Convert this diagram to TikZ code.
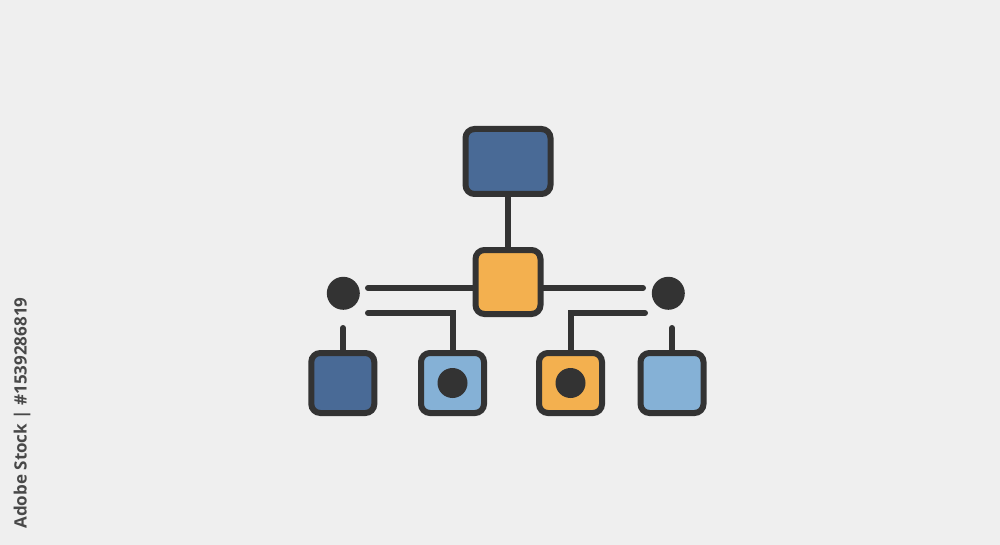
\documentclass[tikz,border=0pt]{standalone}
\usepackage{fontspec}
\setmainfont{Open Sans}
\begin{document}
\begin{tikzpicture}[x=1pt,y=-1pt,
  box/.style={draw=outl,line width=6pt,rounded corners=9pt,inner sep=0pt,minimum width=63pt,minimum height=60pt},
  dot/.style={circle,fill=outl,inner sep=0pt,minimum size=33pt},
  idot/.style={circle,fill=outl,inner sep=0pt,minimum size=30pt},
  conn/.style={draw=outl,line width=6pt,line cap=round}]
\definecolor{bgc}{HTML}{EFEFEF}
\definecolor{outl}{HTML}{333333}
\definecolor{dblue}{HTML}{496A96}
\definecolor{lblue}{HTML}{85B1D6}
\definecolor{orng}{HTML}{F3B04F}
\definecolor{idtext}{HTML}{484848}
\fill[bgc] (0,0) rectangle (1000,545);
\useasboundingbox (0,0) rectangle (1000,545);
\coordinate (l1) at (368,288);
\coordinate (r1) at (643,288);
\coordinate (l2) at (368,313);
\coordinate (r2) at (645,313);
\coordinate (l3) at (343,328);
\coordinate (r3) at (672,328);
\node[box,fill=dblue,minimum width=85pt,minimum height=65pt] (top) at (508,161.5) {};
\node[box,fill=orng,minimum width=65pt,minimum height=64pt] (mid) at (508,282) {};
\node[box,fill=dblue] (b1) at (342.8,383) {};
\node[box,fill=lblue] (b2) at (452.5,383) {};
\node[box,fill=orng] (b3) at (570.5,383) {};
\node[box,fill=lblue] (b4) at (672,383) {};
\node[dot] (dl) at (343.3,293.3) {};
\node[dot] (dr) at (668.3,293.3) {};
\node[idot] (c2) at (b2.center) {};
\node[idot] (c3) at (b3.center) {};
\draw[conn] (top.south) -- (mid.north);
\draw[conn] (l1) -- (l1 -| mid.west);
\draw[conn] (r1) -- (r1 -| mid.east);
\draw[conn] (l2) -| (b2.north);
\draw[conn] (r2) -| (b3.north);
\draw[conn] (l3) -- (l3 |- b1.north);
\draw[conn] (r3) -- (r3 |- b4.north);
\node[rotate=90,text=idtext,font=\fontsize{17}{19}\selectfont\bfseries,inner sep=0pt] (id) at (22,413) {Adobe Stock | \#1539286819};
\end{tikzpicture}
\end{document}
